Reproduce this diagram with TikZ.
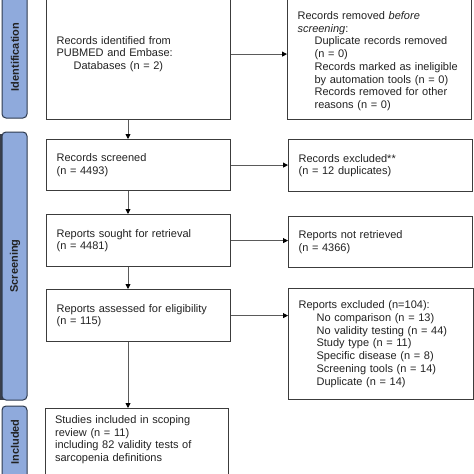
\documentclass[tikz,border=0pt]{standalone}
\usepackage{fontspec}
\setmainfont{Liberation Sans}
\usetikzlibrary{arrows.meta}
\definecolor{boxline}{HTML}{3C3C3C}
\definecolor{arrline}{HTML}{5A5A5A}
\definecolor{phasefill}{HTML}{8FAADC}
\definecolor{phaseline}{HTML}{2E3A4E}
\definecolor{txt}{HTML}{222222}
\definecolor{strip}{HTML}{3A3F4A}
\begin{document}
\begin{tikzpicture}[x=1pt,y=-1pt,
  box/.style={draw=boxline, line width=1.2pt, fill=white, anchor=north west,
    inner xsep=10pt, inner ysep=0pt, align=left, text=txt,
    font=\fontsize{11}{12.7}\selectfont},
  phase/.style={draw=phaseline, line width=1pt, fill=phasefill, rounded corners=4pt},
  plabel/.style={rotate=90, font=\fontsize{11}{13}\selectfont\bfseries, text=txt},
  arr/.style={draw=arrline, line width=0.9pt, -{Triangle[length=5pt,width=5pt,color=black]}}]
\useasboundingbox (0,0) rectangle (474,474);
\clip (0,0) rectangle (474,474);
\fill[white] (0,0) rectangle (474,474);
% phase bars
\fill[strip] (0,134) rectangle (4,400);
\draw[phase] (2,-8) rectangle (27,118);
\draw[phase] (2,132) rectangle (27,400);
\draw[phase] (2,406) rectangle (27,492);
\node[plabel] (pid) at (15,57) {Identification};
\node[plabel] (psc) at (15,266) {Screening};
\node[plabel] (pin) at (15,442) {Included};
% left column
\node[box, minimum width=184pt, minimum height=131pt, text width=164pt] (b1) at (46,-12)
  {Records identified from\\PUBMED and Embase:\\\hspace*{17pt}Databases (n = 2)};
\node[box, minimum width=184pt, minimum height=51pt, text width=164pt] (b2) at (46,139)
  {Records screened\\(n = 4493)};
\node[box, minimum width=184pt, minimum height=52pt, text width=164pt] (b3) at (46,214)
  {Reports sought for retrieval\\(n = 4481)};
\node[box, minimum width=184pt, minimum height=52pt, text width=164pt] (b4) at (46,289)
  {Reports assessed for eligibility\\(n = 115)};
\node[box, minimum width=183pt, inner ysep=7pt, text width=164pt, inner xsep=9.5pt] (b5) at (45,408)
  {Studies included in scoping\\review (n = 11)\\including 82 validity tests of\\sarcopenia definitions\rule[-20pt]{0pt}{20pt}};
% right column
\node[box, minimum width=184pt, minimum height=121pt, text width=164pt] (r1) at (287,-2)
  {\rule{0pt}{12pt}Records removed \textit{before}\\\textit{screening}:\\
   \hspace*{17pt}Duplicate records removed\\\hspace*{17pt}(n = 0)\\
   \hspace*{17pt}Records marked as ineligible\\\hspace*{17pt}by automation tools (n = 0)\\
   \hspace*{17pt}Records removed for other\\\hspace*{17pt}reasons (n = 0)};
\node[box, minimum width=184pt, minimum height=52pt, text width=164pt] (r2) at (288,139)
  {Records excluded**\\(n = 12 duplicates)};
\node[box, minimum width=184pt, minimum height=51pt, text width=164pt] (r3) at (288,216)
  {Reports not retrieved\\(n = 4366)};
\node[box, minimum width=185pt, minimum height=111pt, text width=165pt, inner xsep=10pt] (r4) at (288,288)
  {Reports excluded (n=104):\\
   \hspace*{18pt}No comparison (n = 13)\\
   \hspace*{18pt}No validity testing (n = 44)\\
   \hspace*{18pt}Study type (n = 11)\\
   \hspace*{18pt}Specific disease (n = 8)\\
   \hspace*{18pt}Screening tools (n = 14)\\
   \hspace*{18pt}Duplicate (n = 14)};
% connectors
\coordinate (vx) at (128,0);
\draw[arr] (b1.south -| vx) -- (b2.north -| vx);
\draw[arr] (b2.south -| vx) -- (b3.north -| vx);
\draw[arr] (b3.south -| vx) -- (b4.north -| vx);
\draw[arr] (b4.south -| vx) -- (b5.north -| vx);
\draw[arr] (b1.east) -- (b1.east -| r1.west);
\draw[arr] (b2.east) -- (b2.east -| r2.west);
\draw[arr] (b3.east) -- (b3.east -| r3.west);
\draw[arr] (b4.east) -- (b4.east -| r4.west);
\end{tikzpicture}
\end{document}
